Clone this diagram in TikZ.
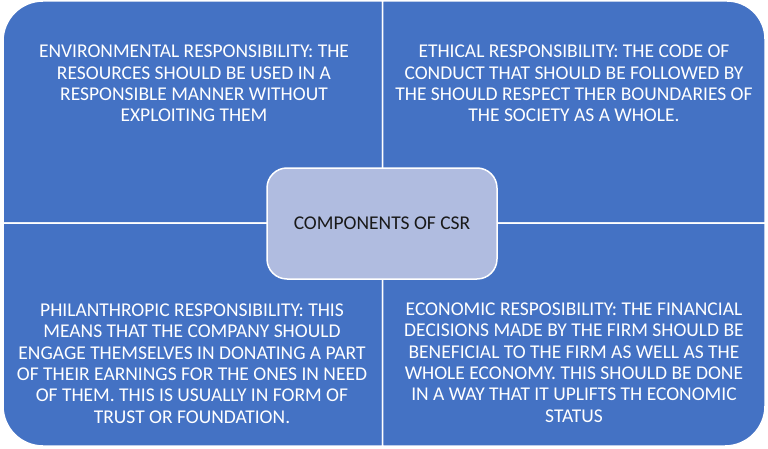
\documentclass[tikz,border=0pt]{standalone}
\usepackage{fontspec}
\setmainfont{Carlito}
\usetikzlibrary{positioning}
\definecolor{quadblue}{HTML}{4472C4}
\definecolor{hubblue}{HTML}{B0BCE0}

\begin{document}
\begin{tikzpicture}[x=1pt, y=1pt,
        quad/.style={fill=quadblue, draw=white, line width=1.5pt},
        quadtext/.style={text=white, align=center, inner sep=0pt, font=\fontsize{19.5}{21.3}\selectfont},
        hub/.style={rectangle, rounded corners=20pt, fill=hubblue, draw=white, line width=1.5pt,
            minimum width=230pt, minimum height=111pt, text=black!90, font=\fontsize{19.5}{21.3}\selectfont}]
            \useasboundingbox (0,0) rectangle (768,448);
            \fill[white] (0,0) rectangle (768,448);

            % four quadrants
            \draw[quad] (3,225) -- (3,407) arc[start angle=180, end angle=90, radius=40pt] -- (382.5,447) -- (382.5,225) -- cycle;
            \draw[quad] (382.5,225) -- (382.5,447) -- (727,447) arc[start angle=90, end angle=0, radius=38pt] -- (765,225) -- cycle;
            \draw[quad] (3,225) -- (3,42) arc[start angle=180, end angle=270, radius=40pt] -- (382.5,2) -- (382.5,225) -- cycle;
            \draw[quad] (382.5,225) -- (382.5,2) -- (725,2) arc[start angle=270, end angle=360, radius=40pt] -- (765,225) -- cycle;

            \node[quadtext] (environ) at (194,364.5) {ENVIRONMENTAL RESPONSIBILITY: THE\\RESOURCES SHOULD BE USED IN A\\RESPONSIBLE MANNER WITHOUT\\EXPLOITING THEM};
            \node[quadtext] (ethic) at (574,364.5) {ETHICAL RESPONSIBILITY: THE CODE OF\\CONDUCT THAT SHOULD BE FOLLOWED BY\\THE SHOULD RESPECT THER BOUNDARIES OF\\THE SOCIETY AS A WHOLE.};
            \node[quadtext] (philan) at (192,84.5) {PHILANTHROPIC RESPONSIBILITY: THIS\\MEANS THAT THE COMPANY SHOULD\\ENGAGE THEMSELVES IN DONATING A PART\\OF THEIR EARNINGS FOR THE ONES IN NEED\\OF THEM. THIS IS USUALLY IN FORM OF\\TRUST OR FOUNDATION.};
            \node[quadtext] (econ) at (574,85.5) {ECONOMIC RESPOSIBILITY: THE FINANCIAL\\DECISIONS MADE BY THE FIRM SHOULD BE\\BENEFICIAL TO THE FIRM AS WELL AS THE\\WHOLE ECONOMY. THIS SHOULD BE DONE\\IN A WAY THAT IT UPLIFTS TH ECONOMIC\\STATUS};

            % centre
            \node[hub] (csr) at (382,224.5) {COMPONENTS OF CSR};
        \end{tikzpicture}
\end{document}
